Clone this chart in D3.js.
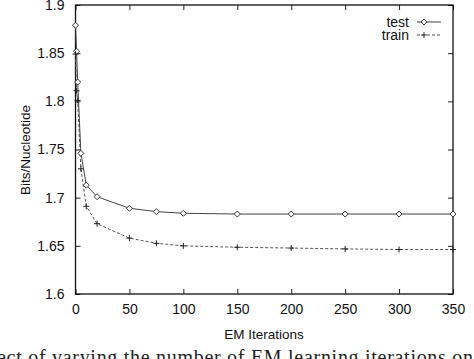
<!DOCTYPE html>
<html><head><meta charset="utf-8">
<script src="https://cdn.jsdelivr.net/npm/d3@7"></script>
<style>body{margin:0;background:#fff;overflow:hidden}svg{display:block}</style>
</head><body>
<script>
const iterations = [0, 1, 2, 5, 10, 20, 50, 75, 100, 150, 200, 250, 300, 350];
const testValues = [1.879, 1.852, 1.820, 1.746, 1.713, 1.701, 1.689, 1.6855, 1.6838, 1.683, 1.683, 1.683, 1.683, 1.683];
const trainValues = [1.849, 1.811, 1.801, 1.730, 1.691, 1.673, 1.658, 1.6526, 1.650, 1.6485, 1.6477, 1.6468, 1.6462, 1.6462];
const xTicks = [0, 50, 100, 150, 200, 250, 300, 350];
const yTicks = [1.6, 1.65, 1.7, 1.75, 1.8, 1.85, 1.9];
const seriesNames = ["test", "train"];

const W = 474, H = 359;
const svg = d3.select("body").append("svg").attr("width", W).attr("height", H);
const L = 75.5, R = 453, T = 5, B = 294;
const x = d3.scaleLinear().domain([0, 350]).range([L, R]);
const y = d3.scaleLinear().domain([1.6, 1.9]).range([B, T]);
const font = "'Liberation Sans', Arial, sans-serif";

const fmt = d => (d === 1.6 ? "1.6" : d === 1.7 ? "1.7" : d === 1.8 ? "1.8" : d === 1.9 ? "1.9" : String(d));

// axes
const tickLen = 5;
const gB = svg.append("g").attr("transform", `translate(0,${B})`)
  .call(d3.axisBottom(x).tickValues(xTicks).tickSize(-tickLen).tickPadding(10).tickFormat(d3.format("d")));
const gT = svg.append("g").attr("transform", `translate(0,${T})`)
  .call(d3.axisTop(x).tickValues(xTicks).tickSize(-tickLen).tickFormat(""));
const gL = svg.append("g").attr("transform", `translate(${L},0)`)
  .call(d3.axisLeft(y).tickValues(yTicks).tickSize(-tickLen).tickPadding(11).tickFormat(fmt));
const gR = svg.append("g").attr("transform", `translate(${R},0)`)
  .call(d3.axisRight(y).tickValues(yTicks).tickSize(-tickLen).tickFormat(""));
[gB, gT, gL, gR].forEach(g => {
  g.select(".domain").remove();
  g.selectAll("line").attr("stroke", "#222").attr("stroke-width", 1);
  g.selectAll("text").attr("font-family", font).attr("font-size", 14).attr("fill", "#111");
});
svg.append("rect").attr("x", L).attr("y", T).attr("width", R - L).attr("height", B - T)
  .attr("fill", "none").attr("stroke", "#111").attr("stroke-width", 1.3);

// labels
svg.append("text").attr("x", 264).attr("y", 339).attr("text-anchor", "middle")
  .attr("font-family", font).attr("font-size", 13.5).attr("fill", "#111").text("EM Iterations");
svg.append("text").attr("transform", "translate(30,150) rotate(-90)").attr("text-anchor", "middle")
  .attr("font-family", font).attr("font-size", 13.5).attr("fill", "#111").text("Bits/Nucleotide");

// caption fragment (clipped by the image bottom)
svg.append("text").attr("x", -3).attr("y", 364).attr("font-family", "'Liberation Serif', serif")
  .attr("font-size", 20).attr("fill", "#222").attr("textLength", 476).attr("lengthAdjust", "spacing")
  .text("ect of varying the number of EM learning iterations on");

const line = d3.line().x(d => x(d[0])).y(d => y(d[1]));
const testData = iterations.map((d, i) => [d, testValues[i]]);
const trainData = iterations.map((d, i) => [d, trainValues[i]]);

svg.append("path").datum(trainData).attr("d", line).attr("fill", "none")
  .attr("stroke", "#555").attr("stroke-width", 1).attr("stroke-dasharray", "3,2");
svg.append("path").datum(testData).attr("d", line).attr("fill", "none")
  .attr("stroke", "#444").attr("stroke-width", 1);

const diamond = (cx, cy) => `M${cx},${cy - 3}L${cx + 3},${cy}L${cx},${cy + 3}L${cx - 3},${cy}Z`;
const plus = (cx, cy) => `M${cx - 3},${cy}H${cx + 3}M${cx},${cy - 3}V${cy + 3}`;

svg.append("g").selectAll("path").data(testData).join("path")
  .attr("d", d => diamond(x(d[0]), y(d[1]))).attr("fill", "#fff").attr("stroke", "#333").attr("stroke-width", 1);
svg.append("g").selectAll("path").data(trainData).join("path")
  .attr("d", d => plus(x(d[0]), y(d[1]))).attr("fill", "none").attr("stroke", "#222").attr("stroke-width", 1);

// legend
const lg = svg.append("g");
[0, 1].forEach(i => {
  const cy = 22 + i * 13;
  lg.append("text").attr("x", 409).attr("y", cy + 4.5).attr("text-anchor", "end")
    .attr("font-family", font).attr("font-size", 14).attr("fill", "#111").text(seriesNames[i]);
  lg.append("line").attr("x1", 417).attr("x2", 441).attr("y1", cy).attr("y2", cy)
    .attr("stroke", i === 0 ? "#444" : "#555").attr("stroke-width", 1)
    .attr("stroke-dasharray", i === 0 ? null : "3,2");
  lg.append("path").attr("d", i === 0 ? diamond(424, cy) : plus(424, cy))
    .attr("fill", i === 0 ? "#fff" : "none").attr("stroke", "#333");
});
</script>
</body></html>
